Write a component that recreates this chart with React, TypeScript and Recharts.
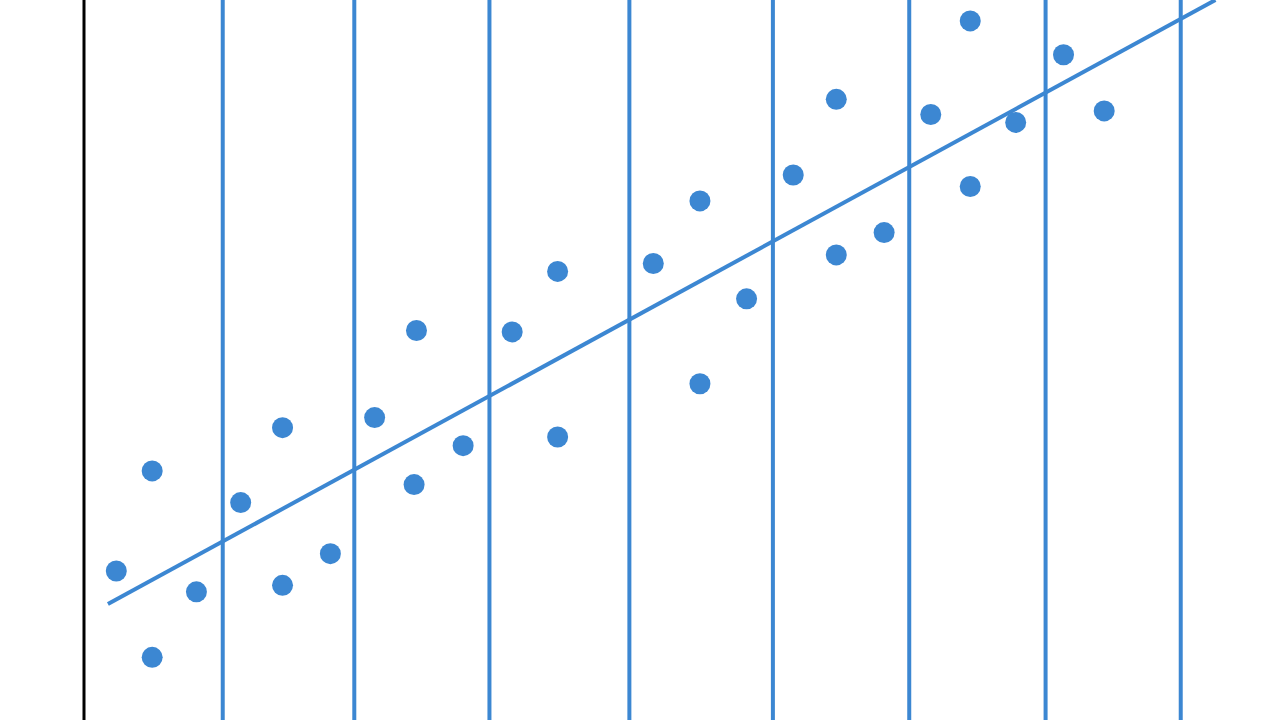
import {
  ComposedChart,
  ReferenceLine,
  Scatter,
  XAxis,
  YAxis,
} from 'recharts';

const xs = [
  2.7, 5.7, 5.7, 9.4, 13.1, 16.6, 16.6, 20.6, 24.3, 27.6, 27.8, 31.7, 35.8, 39.6, 39.6,
  47.6, 51.5, 51.5, 55.4, 59.3, 62.9, 62.9, 66.9, 70.8, 74.1, 74.1, 77.9, 81.9, 85.3,
];
const ys = [
  20.7, 34.6, 8.7, 17.8, 30.2, 40.6, 18.7, 23.1, 42.0, 32.7, 54.1, 38.1, 53.9, 62.3, 39.3,
  63.4, 72.1, 46.7, 58.5, 75.7, 86.2, 64.6, 67.7, 84.1, 97.1, 74.1, 83.0, 92.4, 84.6,
];

// vertical grid / bin boundaries
const dividers = [11.6, 22.6, 33.9, 45.6, 57.6, 69.0, 80.4, 91.7];

// fitted trend line
const trendStart = { x: 2.0, y: 16.1 };
const trendEnd = { x: 94.6, y: 100 };

const BLUE = '#3C87D2';

const points = xs.map((x, i) => ({ x, y: ys[i] }));

const Dot = (props: any) => <circle cx={props.cx} cy={props.cy} r={10.5} fill={BLUE} />;

export default function App() {
  return (
    <div style={{ position: 'absolute', top: 0, left: 0, background: '#fff' }}>
      <ComposedChart width={1280} height={720} margin={{ top: 0, right: 0, bottom: 0, left: 0 }}>
        <XAxis type="number" dataKey="x" domain={[0, 100]} hide />
        <YAxis
          type="number"
          dataKey="y"
          domain={[0, 100]}
          width={84}
          tick={false}
          tickLine={false}
          axisLine={{ stroke: '#000', strokeWidth: 3 }}
        />
        {dividers.map((d) => (
          <ReferenceLine key={d} x={d} stroke={BLUE} strokeWidth={4} />
        ))}
        <ReferenceLine
          segment={[trendStart, trendEnd]}
          stroke={BLUE}
          strokeWidth={4}
          ifOverflow="hidden"
        />
        <Scatter data={points} fill={BLUE} shape={Dot} isAnimationActive={false} />
      </ComposedChart>
    </div>
  );
}
